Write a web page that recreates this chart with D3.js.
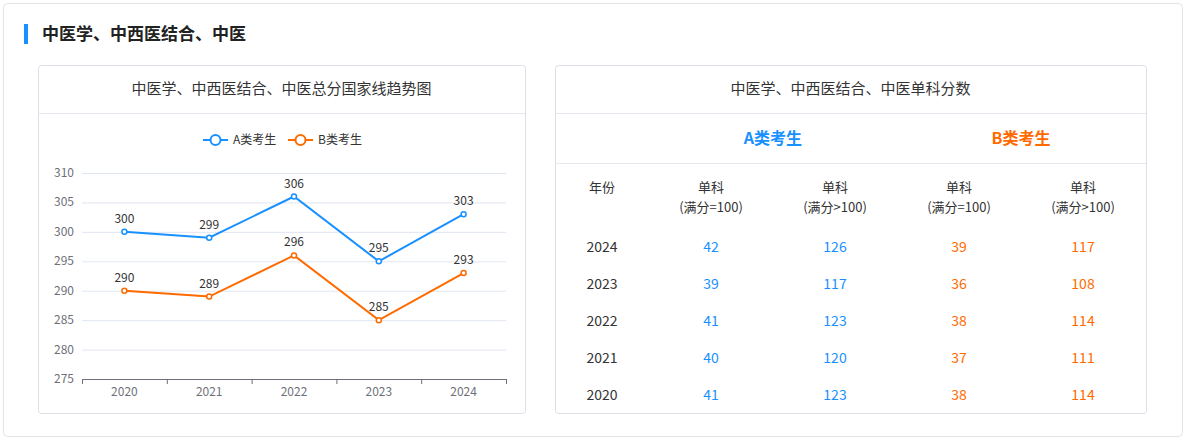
<!DOCTYPE html><html><head><meta charset="utf-8">
<script src="https://cdn.jsdelivr.net/npm/d3@7"></script>
<style>body{margin:0;background:#fff;font-family:"Noto Sans CJK SC","Noto Sans",sans-serif}</style></head><body>
<svg id="c" width="1186" height="440"></svg>
<script>
const years=["2020","2021","2022","2023","2024"];
const seriesA=[300,299,306,295,303];
const seriesB=[290,289,296,285,293];
const yTicks=[275,280,285,290,295,300,305,310];
const tableYears=["2024","2023","2022","2021","2020"];
const a100=[42,39,41,40,41], aOver=[126,117,123,120,123];
const b100=[39,36,38,37,38], bOver=[117,108,114,111,114];
const blue="#1890ff", orange="#ff6a00", F='"Noto Sans CJK SC",sans-serif';
const svg=d3.select("#c");
svg.append("rect").attr("x",3.5).attr("y",3.5).attr("width",1179).attr("height",433).attr("rx",4).attr("fill","#fff").attr("stroke","#e4e4e4");
svg.append("rect").attr("x",24).attr("y",24).attr("width",4).attr("height",20).attr("fill",blue);
svg.append("text").attr("x",42).attr("y",40).text("中医学、中西医结合、中医").attr("font-size",17).attr("font-weight","bold").attr("fill","#222").attr("font-family",F);
function panel(x,w,title){
 svg.append("rect").attr("x",x+.5).attr("y",65.5).attr("width",w).attr("height",348).attr("rx",3).attr("fill","#fff").attr("stroke","#dcdfe6");
 svg.append("line").attr("x1",x).attr("x2",x+w).attr("y1",113.5).attr("y2",113.5).attr("stroke","#e4e7ed");
 svg.append("text").attr("x",x+w/2).attr("y",94).attr("text-anchor","middle").text(title).attr("font-size",15).attr("fill","#333").attr("font-family",F);
}
panel(38,487,"中医学、中西医结合、中医总分国家线趋势图");
panel(555,591,"中医学、中西医结合、中医单科分数");
// chart
const x=d3.scaleBand().domain(years).range([82,506]);
const y=d3.scaleLinear().domain([275,310]).range([379,173]);
const g=svg.append("g").attr("font-family",F);
yTicks.forEach(t=>{ if(t>275) g.append("line").attr("x1",82).attr("x2",506).attr("y1",y(t)+.5).attr("y2",y(t)+.5).attr("stroke","#e0e6f1");
 g.append("text").attr("x",74).attr("y",y(t)+4).attr("text-anchor","end").text(t).attr("font-size",12).attr("fill","#6e7079");});
const ax=g.append("g").attr("transform","translate(0,379)").call(d3.axisBottom(x).tickSize(5).tickSizeOuter(0).tickValues([]));
ax.select(".domain").attr("stroke","#6e7079");
[82,...years.map(d=>x(d)+x.bandwidth())].forEach(v=>g.append("line").attr("x1",v+.5).attr("x2",v+.5).attr("y1",379).attr("y2",384).attr("stroke","#6e7079"));
years.forEach(d=>g.append("text").attr("x",x(d)+x.bandwidth()/2).attr("y",396).attr("text-anchor","middle").text(d).attr("font-size",12).attr("fill","#6e7079"));
[[seriesA,blue],[seriesB,orange]].forEach(([s,c])=>{
 g.append("path").attr("d",d3.line().x((v,i)=>x(years[i])+x.bandwidth()/2).y(v=>y(v))(s)).attr("fill","none").attr("stroke",c).attr("stroke-width",2);
 s.forEach((v,i)=>{const cx=x(years[i])+x.bandwidth()/2;
  g.append("circle").attr("cx",cx).attr("cy",y(v)).attr("r",2.5).attr("fill","#fff").attr("stroke",c).attr("stroke-width",1.5);
  g.append("text").attr("x",cx).attr("y",y(v)-9).attr("text-anchor","middle").text(v).attr("font-size",12).attr("fill","#333");});
});
// legend
[["A类考生",blue,203],["B类考生",orange,288]].forEach(([t,c,lx])=>{
 g.append("line").attr("x1",lx).attr("x2",lx+25).attr("y1",140).attr("y2",140).attr("stroke",c).attr("stroke-width",2);
 g.append("circle").attr("cx",lx+12.5).attr("cy",140).attr("r",5).attr("fill","#fff").attr("stroke",c).attr("stroke-width",2);
 g.append("text").attr("x",lx+30).attr("y",144).text(t).attr("font-size",12).attr("fill","#333");});
// table
const t=svg.append("g").attr("font-family",F).attr("text-anchor","middle");
t.append("text").attr("x",773).attr("y",144).text("A类考生").attr("font-size",16).attr("font-weight","bold").attr("fill",blue);
t.append("text").attr("x",1021).attr("y",144).text("B类考生").attr("font-size",16).attr("font-weight","bold").attr("fill",orange);
t.append("line").attr("x1",555).attr("x2",1146).attr("y1",163.5).attr("y2",163.5).attr("stroke","#e4e7ed");
const cols=[602,711,835,959,1083];
t.append("text").attr("x",cols[0]).attr("y",192).text("年份").attr("font-size",13).attr("fill","#333");
["(满分=100)","(满分>100)","(满分=100)","(满分>100)"].forEach((h,i)=>{
 t.append("text").attr("x",cols[i+1]).attr("y",192).text("单科").attr("font-size",13).attr("fill","#333");
 t.append("text").attr("x",cols[i+1]).attr("y",212).text(h).attr("font-size",13).attr("fill","#333");});
tableYears.forEach((yr,i)=>{const yy=252+i*37;
 [[yr,"#333"],[a100[i],blue],[aOver[i],blue],[b100[i],orange],[bOver[i],orange]].forEach(([v,c],j)=>
  t.append("text").attr("x",cols[j]).attr("y",yy).text(v).attr("font-size",14).attr("fill",c));});
</script></body></html>
